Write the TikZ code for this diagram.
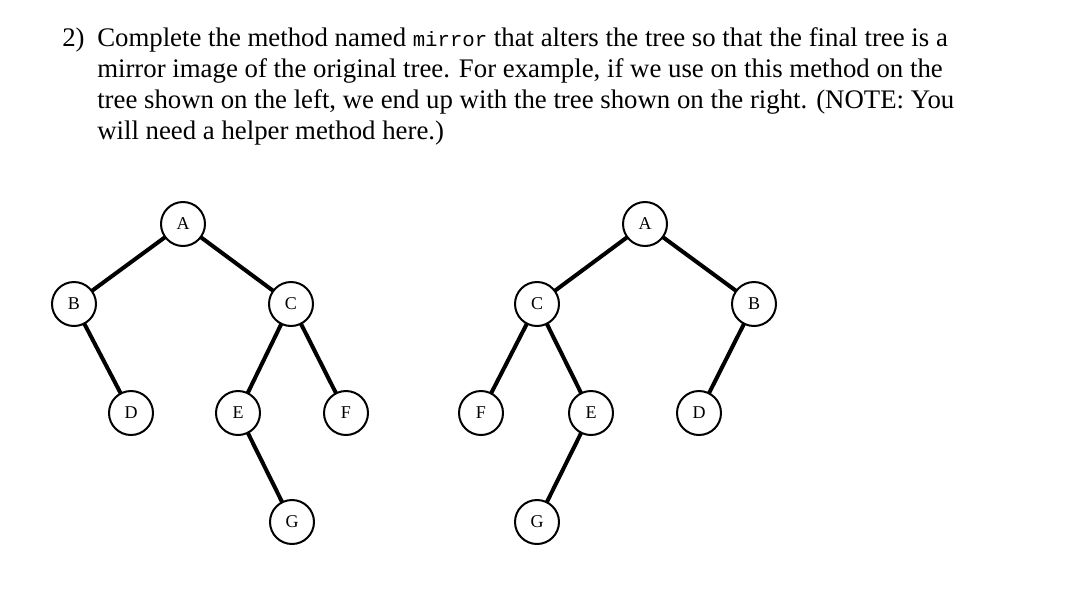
\documentclass[tikz,border=0pt]{standalone}
\usepackage{fontspec}
\setmainfont{Liberation Serif}
\newfontfamily\cour{Liberation Mono}
\begin{document}
\begin{tikzpicture}[x=0.75pt,y=-0.75pt,
  nd/.style={circle,draw,line width=1.5pt,minimum size=33pt,inner sep=0pt,fill=white,font=\fontsize{13.5}{13.5}\selectfont},
  ed/.style={line width=3pt},
  tx/.style={anchor=base west,inner sep=0pt,font=\fontsize{20.1}{23.2}\selectfont}]
\useasboundingbox (0,0) rectangle (1068,590);
\node[tx] (n2) at (62,46) {2)};
\node[tx] (l1) at (97,46) {Complete the method named {\cour\fontsize{15.5}{15.5}\selectfont mirror} that alters the tree so that the final tree is a};
\node[tx] (l2) at (97,77) {mirror image of the original tree. For example, if we use on this method on the};
\node[tx] (l3) at (97,108) {tree shown on the left, we end up with the tree shown on the right. (NOTE: You};
\node[tx] (l4) at (97,139) {will need a helper method here.)};
\draw[ed] (183,224) -- (74,304) -- (131,413);
\draw[ed] (183,224) -- (291,304) -- (238,413) -- (292,522);
\draw[ed] (291,304) -- (346,413);
\node[nd] (a1) at (183,224) {A};
\node[nd] (b1) at (74,304) {B};
\node[nd] (c1) at (291,304) {C};
\node[nd] (d1) at (131,413) {D};
\node[nd] (e1) at (238,413) {E};
\node[nd] (f1) at (346,413) {F};
\node[nd] (g1) at (292,522) {G};
\draw[ed] (645,224) -- (754,304) -- (699,413);
\draw[ed] (645,224) -- (537,304) -- (591,413);
\draw[ed] (537,304) -- (481,413);
\draw[ed] (591,413) -- (537,522);
\node[nd] (a2) at (645,224) {A};
\node[nd] (c2) at (537,304) {C};
\node[nd] (b2) at (754,304) {B};
\node[nd] (f2) at (481,413) {F};
\node[nd] (e2) at (591,413) {E};
\node[nd] (d2) at (699,413) {D};
\node[nd] (g2) at (537,522) {G};
\end{tikzpicture}
\end{document}
